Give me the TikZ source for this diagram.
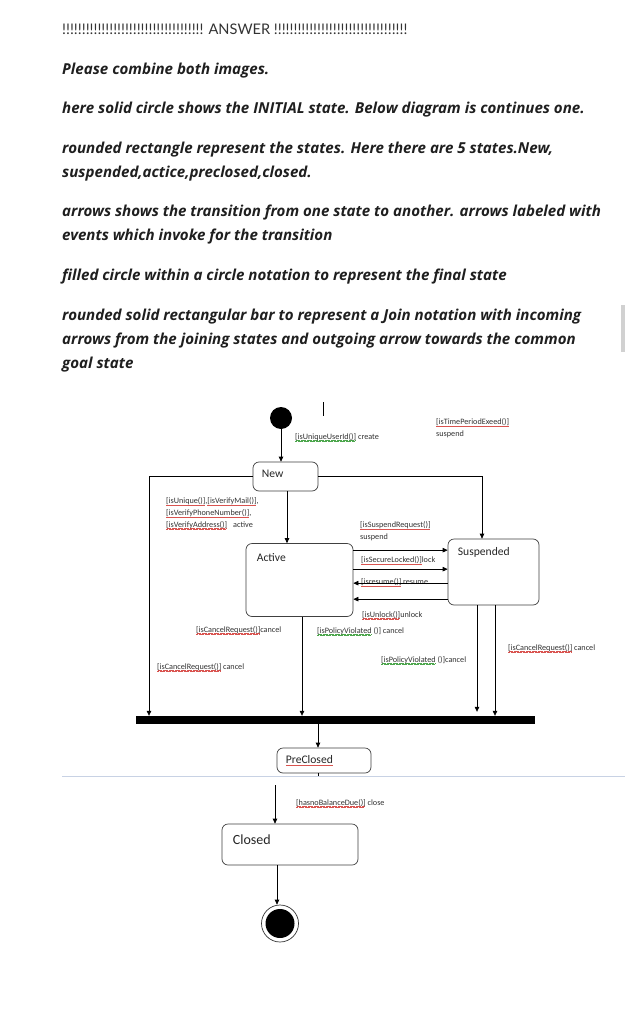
\documentclass[tikz,border=0pt]{standalone}
\usepackage{fontspec}
\usetikzlibrary{arrows.meta}
\newfontfamily\carlito{Carlito}
\newfontfamily\lato{Lato}
\newfontfamily\osans{Open Sans}
\definecolor{sqred}{HTML}{D9534F}
\definecolor{sqgreen}{HTML}{4CA64C}
\definecolor{sepline}{HTML}{C8D2E4}
\newcommand\sqline[2]{\setbox0\hbox{#2}\rlap{\color{#1}\leaders\hbox{\rule[-1.9pt]{0.6pt}{0.35pt}\rule[-1.45pt]{0.6pt}{0.35pt}}\hskip\wd0}\box0\relax}
\newcommand\rsq[1]{\sqline{sqred}{#1}}
\newcommand\gsq[1]{\sqline{sqgreen}{#1}}
\tikzset{
  arr/.style={-{Triangle[length=5pt,width=4.5pt]}, line width=0.7pt},
  stbox/.style={draw=black!75, rounded corners=6pt, line width=0.7pt, inner sep=0pt},
  lbl/.style={font=\fontsize{8.2}{11.8}\selectfont\carlito, text=black!80, inner sep=0pt, anchor=west, align=left},
  stxt/.style={font=\fontsize{11.6}{13}\selectfont\carlito, text=black!85, inner sep=0pt, anchor=west},
  para/.style={font=\fontsize{15.1}{17}\selectfont\osans\bfseries\itshape, text=black!88, inner sep=0pt, anchor=west},
  hdr/.style={font=\fontsize{14.6}{16}\selectfont\lato, text=black!80, inner sep=0pt, anchor=west},
}
\begin{document}
\begin{tikzpicture}[x=1pt,y=-1pt]
\fill[white] (0,0) rectangle (625,1024);
\useasboundingbox (0,0) rectangle (625,1024);

% header and explanation
\node[hdr] (h0) at (62,29) {!!!!!!!!!!!!!!!!!!!!!!!!!!!!!!!!!!!! ANSWER !!!!!!!!!!!!!!!!!!!!!!!!!!!!!!!!!!};
\node[para] (p1) at (62,71) {Please combine both images.};
\node[para] (p2) at (62,110) {here solid circle shows the INITIAL state. Below diagram is continues one.};
\node[para] (p3) at (62,150) {rounded rectangle represent the states. Here there are 5 states.New,};
\node[para] (p4) at (62,174) {suspended,actice,preclosed,closed.};
\node[para] (p5) at (62,213) {arrows shows the transition from one state to another. arrows labeled with};
\node[para] (p6) at (62,237) {events which invoke for the transition};
\node[para] (p7) at (62,277) {filled circle within a circle notation to represent the final state};
\node[para] (p8) at (62,317) {rounded solid rectangular bar to represent a Join notation with incoming};
\node[para] (p9) at (62,341) {arrows from the joining states and outgoing arrow towards the common};
\node[para] (p10) at (62,365) {goal state};
\fill[black!18] (621,305) rectangle (625,352);

% cursor mark
\draw[line width=0.9pt] (323,402) -- (323,416);

% states
\node[circle, fill=black, minimum size=22pt, inner sep=0pt] (init) at (281,418) {};
\node[stbox, minimum width=65pt, minimum height=29pt] (new) at (285.5,476.5) {};
\node[stxt] (tnew) at ([shift={(9,-3)}]new.west) {New};
\node[stbox, minimum width=107pt, minimum height=73pt] (act) at (299.5,580) {};
\node[stxt] (tact) at ([shift={(11,14)}]act.north west) {Active};
\node[stbox, minimum width=91pt, minimum height=66pt] (susp) at (493.5,572) {};
\node[stxt] (tsusp) at ([shift={(10,14)}]susp.north west) {Suspended};
\node[fill=black, minimum width=399pt, minimum height=8pt, inner sep=0pt] (bar) at (335.5,720) {};
\node[stbox, minimum width=94pt, minimum height=25pt] (pre) at (324,760.5) {};
\node[stxt] (tpre) at ([shift={(9,0)}]pre.west) {\rsq{PreClosed}};

% page separator
\draw[sepline, line width=0.8pt] (62,776) -- (625,776);

\node[stbox, minimum width=136pt, minimum height=41pt] (closed) at (290,844.5) {};
\node[stxt, font=\fontsize{14}{15}\selectfont\carlito] (tclosed) at ([shift={(11,16)}]closed.north west) {Closed};
\node[circle, draw=black!80, line width=0.7pt, minimum size=37pt, inner sep=0pt,
  path picture={\fill[black] (path picture bounding box.center) circle (14.5pt);}] (final) at (280,923.5) {};

% transitions
\draw[arr] (init.south) -- (init.south |- new.north);
\draw[arr] (new.east) -| ([xshift=-11.5]susp.north);
\draw[arr] (new.west) -| ([xshift=-186.5]bar.north);
\draw[arr] ([xshift=1.5]new.south) -- ([xshift=1.5]new.south |- act.north);
\draw[arr] ([yshift=-7]act.north east) -- ([yshift=-7]act.north east -| susp.west);
\draw[arr] ([yshift=-26]act.north east) -- ([yshift=-26]act.north east -| susp.west);
\draw[arr] ([yshift=-56]act.north east -| susp.west) -- ([yshift=-56]act.north east);
\draw[arr] ([xshift=2.5]act.south) -- ([xshift=2.5]act.south |- bar.north);
\draw[arr] ([xshift=-16.5]susp.south) -- ([xshift=-16.5,yshift=4]susp.south |- bar.north);
\draw[arr] ([xshift=1.5]susp.south) -- ([xshift=1.5]susp.south |- bar.north);
\draw[arr] ([xshift=-6]pre.north |- bar.south) -- ([xshift=-6]pre.north);
\coordinate (sepend) at ([xshift=-6]pre.south |- 0,776);
\draw[line width=0.7pt] ([xshift=-6]pre.south) -- (sepend);
\coordinate (cstart) at (275,785);
\draw[arr] (cstart) -- (cstart |- closed.north);
\draw[arr] ([xshift=-13]closed.south) -- ([xshift=-13]closed.south |- final.north);

% labels
\node[lbl] (l1) at (295,437) {\gsq{[isUniqueUserId()]} create};
\node[lbl] (l2) at (436,428) {\rsq{[isTimePeriodExeed()]}\\suspend};
\node[lbl] (l3) at (166,513.5) {\rsq{[isUnique()]},\rsq{[isVerifyMail()]},\\\rsq{[isVerifyPhoneNumber()]},\\\rsq{[isVerifyAddress()]}\hspace{6pt}active};
\node[lbl] (l4) at (360,531) {\rsq{[isSuspendRequest()]}\\suspend};
\node[lbl] (l5) at (361,560.5) {\rsq{[isSecureLocked()]}lock};
\node[lbl] (l6) at (361,582.5) {\rsq{[isresume()]} resume};
\draw[arr] ([yshift=-40]act.north east -| susp.west) -- ([yshift=-40]act.north east);
\node[lbl] (l7) at (362,615) {\rsq{[isUnlock()]}unlock};
\node[lbl] (l8) at (196,630) {\rsq{[isCancelRequest()]}cancel};
\node[lbl] (l9) at (317,631) {\gsq{[isPolicyViolated} ()] cancel};
\node[lbl] (l10) at (157,667) {\rsq{[isCancelRequest()]} cancel};
\node[lbl] (l11) at (381,660) {\gsq{[isPolicyViolated} ()]cancel};
\node[lbl] (l12) at (508,648) {\rsq{[isCancelRequest()]} cancel};
\node[lbl] (l13) at (296,803) {\rsq{[hasnoBalanceDue()]} close};
\end{tikzpicture}
\end{document}
